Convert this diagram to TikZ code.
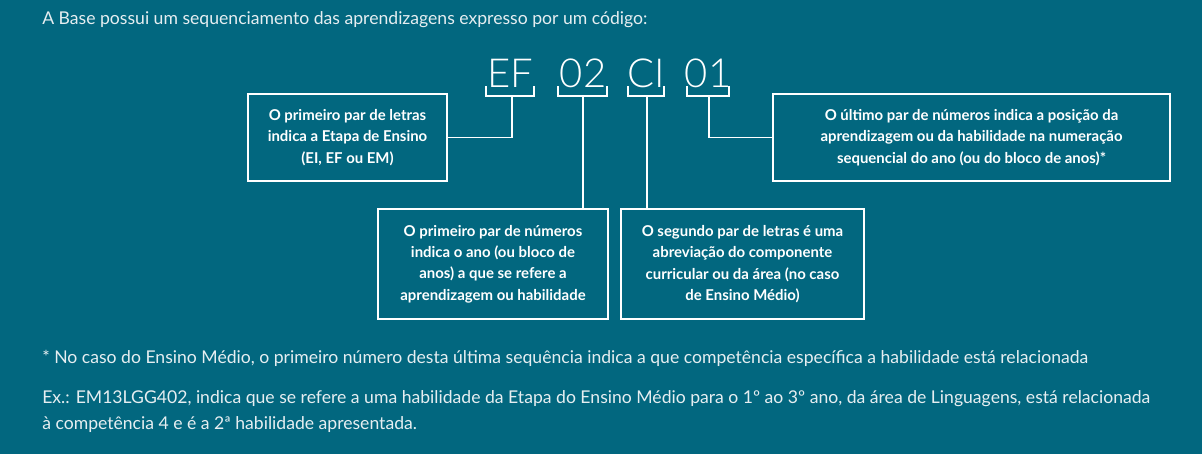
\documentclass[tikz,border=0pt]{standalone}
\usepackage{fontspec}
\setmainfont{Lato}
\newfontfamily\thinfont{Lato Light}
\definecolor{bg}{HTML}{02677F}
\definecolor{txt}{HTML}{E6EEF1}
\begin{document}
\begin{tikzpicture}[x=0.75pt,y=-0.75pt,
  box/.style={draw=white,line width=0.9pt,text=white,font=\bfseries\fontsize{11.2}{16}\selectfont,align=center,inner sep=0pt},
  ln/.style={draw=white,line width=1.3pt},
  code/.style={text=white,font=\thinfont\fontsize{30}{30}\selectfont,inner sep=0pt,anchor=base},
  plain/.style={text=txt,font=\fontsize{13.2}{20}\selectfont,anchor=north west,inner sep=0pt,align=left}]
\fill[bg] (0,0) rectangle (1202,454);
\useasboundingbox (0,0) rectangle (1202,454);
\node[plain] (head) at (42,11) {A Base possui um sequenciamento das aprendizagens expresso por um código:};
\node[code] (c1) at (510,87) {EF};
\node[code] (c2) at (583,87) {02};
\node[code] (c3) at (646,87) {CI};
\node[code] (c4) at (708,87) {01};
\draw[ln] (486,86) -- (486,96) -- (534,96) -- (534,86);
\draw[ln] (558,86) -- (558,96) -- (607,96) -- (607,86);
\draw[ln] (628,86) -- (628,96) -- (664,96) -- (664,86);
\draw[ln] (687,86) -- (687,96) -- (729,96) -- (729,86);
\node[box,minimum width=149.25pt,minimum height=65.25pt] (b1) at (347.5,137.5) {O primeiro par de letras\\indica a Etapa de Ensino\\(EI, EF ou EM)};
\node[box,minimum width=297.75pt,minimum height=65.25pt] (b4) at (971.5,137.5) {O último par de números indica a posição da\\aprendizagem ou da habilidade na numeração\\sequencial do ano (ou do bloco de anos)*};
\node[box,minimum width=172.5pt,minimum height=82.5pt] (b2) at (493,264) {O primeiro par de números\\indica o ano (ou bloco de\\anos) a que se refere a\\aprendizagem ou habilidade};
\node[box,minimum width=182.25pt,minimum height=82.5pt] (b3) at (742.5,264) {O segundo par de letras é uma\\abreviação do componente\\curricular ou da área (no caso\\de Ensino Médio)};
\coordinate (k1) at (512,96); \coordinate (k2) at (583,96);
\coordinate (k3) at (647,96); \coordinate (k4) at (709,96);
\draw[ln] (k1) |- (b1.east);
\draw[ln] (k2) -- (k2 |- b2.north);
\draw[ln] (k3) -- (k3 |- b3.north);
\draw[ln] (k4) |- (b4.west);
\node[plain] (n1) at (42,350) {* No caso do Ensino Médio, o primeiro número desta última sequência indica a que competência específica a habilidade está relacionada};
\node[plain] (n2) at (42,390) {Ex.: EM13LGG402, indica que se refere a uma habilidade da Etapa do Ensino Médio para o 1º ao 3º ano, da área de Linguagens, está relacionada\\à competência 4 e é a 2ª habilidade apresentada.};
\end{tikzpicture}
\end{document}
